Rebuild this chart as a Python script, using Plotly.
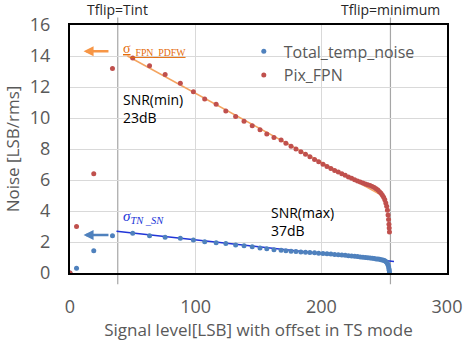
import plotly.graph_objects as go

# Signal level [LSB] sample positions
signal = [0, 5.2, 18.9, 33.8, 49.9, 63.3, 75.7, 87.8, 98.2, 107.2, 116.3, 124.0, 131.8,
          138.5, 145.0, 151.2, 156.6, 162.3, 168.0, 171.8, 175.9, 179.8, 183.7, 187.4,
          190.9, 194.6, 197.9, 201.3, 204.5, 207.6, 210.6, 213.5, 216.3, 219.0, 221.6,
          224.1, 226.5, 228.8, 231.0, 233.1, 235.1, 237.0, 238.8, 240.5, 242.1, 243.6,
          245.0, 246.3, 247.5, 248.6, 249.6, 250.5, 251.3, 252.0, 252.6, 253.1, 253.5,
          253.8, 254.0, 254.2]

total_temp_noise = [0.0, 0.30, 1.44, 2.41, 2.56, 2.41, 2.30, 2.24, 2.13, 2.02, 1.95, 1.90, 1.81,
                    1.76, 1.70, 1.61, 1.57, 1.50, 1.46, 1.43, 1.40, 1.38, 1.36, 1.34,
                    1.32, 1.30, 1.28, 1.26, 1.24, 1.22, 1.20, 1.18, 1.16, 1.14, 1.12,
                    1.10, 1.08, 1.06, 1.04, 1.02, 1.00, 0.98, 0.97, 0.95, 0.93, 0.91,
                    0.90, 0.88, 0.86, 0.84, 0.82, 0.79, 0.75, 0.70, 0.62, 0.52, 0.40,
                    0.28, 0.17, 0.05]

pix_fpn = [0.0, 3.0, 6.4, 13.2, 13.87, 13.37, 12.8, 12.24, 11.7, 11.23, 10.88, 10.45, 10.1,
           9.79, 9.5, 9.25, 8.97, 8.75, 8.58, 8.37, 8.17, 8.0, 7.83, 7.66,
           7.5, 7.33, 7.18, 7.01, 6.87, 6.74, 6.62, 6.51, 6.40, 6.30, 6.20,
           6.11, 6.02, 5.94, 5.87, 5.80, 5.74, 5.69, 5.64, 5.58, 5.52, 5.44,
           5.35, 5.25, 5.14, 5.02, 4.88, 4.72, 4.52, 4.30, 4.05, 3.75, 3.45,
           3.15, 2.90, 2.65]

# Linear trend lines (endpoints)
fpn_trend_x = [45.7, 251.0]
fpn_trend_y = [14.0, 4.88]
tn_trend_x = [37.0, 257.8]
tn_trend_y = [2.69, 0.75]

xticks = [0, 100, 200, 300]
yticks = [0, 2, 4, 6, 8, 10, 12, 14, 16]
tflip_tint = 38
tflip_min = 255

FONT = "'Open Sans', sans-serif"
GRAY = "#595959"

fig = go.Figure()
fig.add_trace(go.Scatter(x=fpn_trend_x, y=fpn_trend_y, mode="lines",
                         line=dict(color="#F4A460", width=1.5), showlegend=False, hoverinfo="skip"))
fig.add_trace(go.Scatter(x=tn_trend_x, y=tn_trend_y, mode="lines",
                         line=dict(color="#2035D8", width=1.5), showlegend=False, hoverinfo="skip"))
fig.add_trace(go.Scatter(x=signal, y=total_temp_noise, mode="markers", name="Total_temp_noise",
                         marker=dict(color="#4F81BD", size=5)))
fig.add_trace(go.Scatter(x=signal, y=pix_fpn, mode="markers", name="Pix_FPN",
                         marker=dict(color="#C0504D", size=5)))

for xv in (tflip_tint, tflip_min):
    fig.add_shape(type="line", xref="x", yref="paper", x0=xv, x1=xv, y0=-0.045, y1=1.03,
                  line=dict(color="#A6A6A6", width=1.2), layer="below")

annots = [
    dict(x=tflip_tint, y=1.0, yref="paper", text="Tflip=Tint", yanchor="bottom", yshift=4,
         font=dict(size=14, color="#262626")),
    dict(x=tflip_min, y=1.0, yref="paper", text="Tflip=minimum", yanchor="bottom", yshift=4,
         font=dict(size=14, color="#262626")),
    dict(x=40.5, y=14.45, text="<u>σ<sub>_FPN_PDFW</sub></u>", xanchor="left",
         font=dict(size=14, color="#E46C0A", family="'Liberation Serif', serif")),
    dict(x=40.5, y=10.6, text="SNR(min)<br>23dB", xanchor="left", align="left",
         font=dict(size=14, color="#000000")),
    dict(x=158, y=3.32, text="SNR(max)<br>37dB", xanchor="left", align="left",
         font=dict(size=14, color="#000000")),
    dict(x=40.5, y=3.6, text="<i>σ<sub>TN _SN</sub></i>", xanchor="left",
         font=dict(size=15, color="#2035D8", family="'Liberation Serif', serif")),
]
for a in annots:
    a.setdefault("xref", "x")
    a.setdefault("yref", "y")
    a["showarrow"] = False
    fig.add_annotation(**a)

# arrows
fig.add_annotation(x=10.8, y=14.3, ax=31.8, ay=14.3, xref="x", yref="y", axref="x", ayref="y",
                   text="", showarrow=True, arrowhead=2, arrowsize=0.8, arrowwidth=2.5, arrowcolor="#F79646")
fig.add_annotation(x=10.8, y=2.45, ax=31.8, ay=2.45, xref="x", yref="y", axref="x", ayref="y",
                   text="", showarrow=True, arrowhead=2, arrowsize=0.8, arrowwidth=2.5, arrowcolor="#4F81BD")

fig.update_layout(
    width=474, height=347,
    margin=dict(l=69, r=19, t=25, b=73),
    paper_bgcolor="white", plot_bgcolor="white",
    font=dict(family=FONT, color=GRAY),
    legend=dict(x=0.461, y=0.962, xanchor="left", yanchor="top", bgcolor="rgba(0,0,0,0)",
                font=dict(size=16, color=GRAY), itemwidth=30, tracegroupgap=0),
    xaxis=dict(range=[0, 300], tickvals=xticks, showgrid=True, gridcolor="#D9D9D9", gridwidth=1,
               zeroline=False, showline=True, linecolor="black", linewidth=2, mirror=True,
               tickfont=dict(size=18, color=GRAY), ticks="", ticklabelstandoff=16,
               title=dict(text="Signal level[LSB] with offset in TS mode", font=dict(size=17, color=GRAY),
                          standoff=6)),
    yaxis=dict(range=[0, 16], tickvals=yticks, showgrid=True, gridcolor="#D9D9D9", gridwidth=1,
               zeroline=False, showline=True, linecolor="black", linewidth=2, mirror=True,
               tickfont=dict(size=18, color=GRAY), ticks="", ticklabelstandoff=14,
               title=dict(text="Noise [LSB/rms]", font=dict(size=17, color=GRAY), standoff=6)),
)

fig.write_html("out.html")
